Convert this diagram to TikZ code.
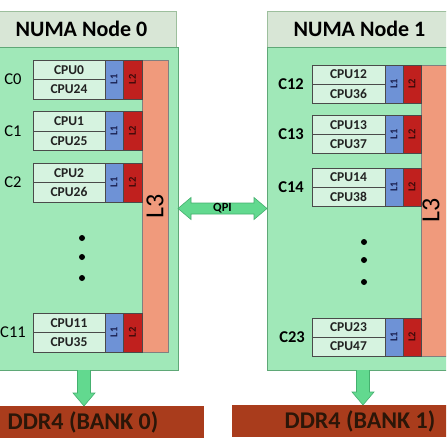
\documentclass[tikz,border=0pt]{standalone}
\usepackage{fontspec}
\usepackage{graphicx}
\setmainfont{Carlito}
\usetikzlibrary{calc}
\definecolor{hdrfill}{HTML}{D8E6D6}
\definecolor{hdrline}{HTML}{9DBF9D}
\definecolor{bodyfill}{HTML}{A0E8B8}
\definecolor{bodyline}{HTML}{5FA877}
\definecolor{cpufill}{HTML}{D6F3E0}
\definecolor{cpuline}{HTML}{4A4A4A}
\definecolor{lonefill}{HTML}{6E92D6}
\definecolor{ltwofill}{HTML}{C0201E}
\definecolor{lthreefill}{HTML}{F09A7C}
\definecolor{ddrfill}{HTML}{A93C1C}
\definecolor{ddrtext}{HTML}{2B1608}
\definecolor{arrfill}{HTML}{62D98F}
\definecolor{arrline}{HTML}{45B06F}
\definecolor{lonetext}{HTML}{1A2050}
\definecolor{ltwotext}{HTML}{3A0A0A}
\definecolor{cputext}{HTML}{222222}
\tikzset{
  box/.style={rectangle, inner sep=0pt, outer sep=0pt, anchor=north west},
  hdr/.style={box, draw=hdrline, fill=hdrfill, line width=0.8pt, font=\fontsize{22}{24}\selectfont\bfseries},
  nodebody/.style={box, draw=bodyline, fill=bodyfill, line width=0.8pt},
  cpubox/.style={box, draw=cpuline, fill=cpufill, line width=0.6pt, text=cputext, font=\fontsize{13.5}{15}\selectfont\bfseries},
  lonebox/.style={box, draw=cpuline, fill=lonefill, line width=0.6pt, text=lonetext, font=\fontsize{10.5}{11}\selectfont\bfseries},
  ltwobox/.style={box, draw=cpuline, fill=ltwofill, line width=0.6pt, text=ltwotext, font=\fontsize{10.5}{11}\selectfont\bfseries},
  lthreebox/.style={box, draw=cpuline!70, fill=lthreefill, line width=0.6pt},
  lthreelab/.style={inner sep=0pt, font=\fontsize{26}{28}\selectfont},
  corelabA/.style={inner sep=0pt, font=\fontsize{16.5}{18}\selectfont},
  corelabB/.style={inner sep=0pt, font=\fontsize{16.5}{18}\selectfont\bfseries},
  dotnode/.style={circle, fill=black, inner sep=0pt, minimum size=6pt},
  ddrbox/.style={rectangle, inner sep=0pt, outer sep=0pt, fill=ddrfill, text=ddrtext, font=\fontsize{24}{26}\selectfont\bfseries},
  fatarrow/.style={fill=arrfill, draw=arrline, line width=0.6pt, line join=miter},
  qpilab/.style={inner sep=0pt, font=\fontsize{12.5}{13}\selectfont\bfseries}
}
% #1 name, #2 x, #3 y, #4 row height, #5 cpu width, #6 l1 width, #7 l2 width, #8 top cpu, #9 bottom cpu
\newcommand\coregroup[9]{%
  \node[cpubox, minimum width=#5pt, minimum height=#4pt] (#1a) at (#2,#3) {#8};
  \node[cpubox, minimum width=#5pt, minimum height=#4pt] (#1b) at (#1a.south west) {#9};
  \node[lonebox, minimum width=#6pt, minimum height=2*#4pt] (#1l1) at (#1a.north east) {\rotatebox{90}{L1}};
  \node[ltwobox, minimum width=#7pt, minimum height=2*#4pt] (#1l2) at (#1l1.north east) {\rotatebox{90}{L2}};
}
\begin{document}
\begin{tikzpicture}[x=1pt, y=-1pt]
\path[use as bounding box, clip] (0,0) rectangle (446,446);
\fill[white] (0,0) rectangle (446,446);

% ---------- NUMA Node 0 ----------
\node[hdr, minimum width=186pt, minimum height=36pt] (hdr0) at (-10,11) {\hspace*{-3pt}NUMA Node 0};
\node[nodebody, minimum width=188pt, minimum height=323pt] (body0) at (-10,47) {};
\node[lthreebox, minimum width=26pt, minimum height=292pt] (lthree0) at (142,60) {\rotatebox{90}{\fontsize{26}{28}\selectfont L3}};
\coregroup{ga}{33}{60}{19.5}{72}{18}{19}{CPU0}{CPU24}
\coregroup{gb}{33}{111.5}{19.5}{72}{18}{19}{CPU1}{CPU25}
\coregroup{gc}{33}{163}{19.5}{72}{18}{19}{CPU2}{CPU26}
\coregroup{gd}{33}{313}{19.5}{72}{18}{19}{CPU11}{CPU35}
\node[corelabA] (laba) at (13,79.5) {C0};
\node[corelabA] (labb) at (13,131) {C1};
\node[corelabA] (labc) at (13,182.5) {C2};
\node[corelabA] (labd) at (13,332.5) {C11};
\node[dotnode] (dota1) at (82,238) {};
\node[dotnode] (dota2) at (82,257) {};
\node[dotnode] (dota3) at (82,278) {};

% ---------- NUMA Node 1 ----------
\node[hdr, minimum width=193pt, minimum height=36pt] (hdr1) at (267,11) {\hspace*{-8pt}NUMA Node 1};
\node[nodebody, minimum width=192pt, minimum height=323pt] (body1) at (267,47) {};
\node[lthreebox, minimum width=45pt, minimum height=291pt] (lthree1) at (421,65) {};
\node[lthreelab] (lthreelab1) at ([xshift=-12.5pt]lthree1.center) {\rotatebox{90}{L3}};
\coregroup{ge}{312}{65}{19}{73}{18}{18}{CPU12}{CPU36}
\coregroup{gf}{312}{115.5}{19}{73}{18}{18}{CPU13}{CPU37}
\coregroup{gg}{312}{168}{19}{73}{18}{18}{CPU14}{CPU38}
\coregroup{gh}{312}{318}{19}{73}{18}{18}{CPU23}{CPU47}
\node[corelabB] (labe) at (291,84) {C12};
\node[corelabB] (labf) at (291,134.5) {C13};
\node[corelabB] (labg) at (291,187) {C14};
\node[corelabB] (labh) at (292,337) {C23};
\node[dotnode] (dotb1) at (364,242) {};
\node[dotnode] (dotb2) at (364,260) {};
\node[dotnode] (dotb3) at (364,282) {};

% ---------- DDR4 banks ----------
\node[ddrbox, minimum width=242pt, minimum height=32pt, anchor=north] (ddr0) at (83,406) {DDR4 (BANK 0)};
\node[ddrbox, minimum width=256pt, minimum height=32pt, anchor=north] (ddr1) at (360,405) {DDR4 (BANK 1)};

% ---------- arrows ----------
\draw[fatarrow] let \p1=(body0.south), \p2=(ddr0.north) in
  (\x1-6.5pt,\y1) -- (\x1-6.5pt,\y2+13pt) -- (\x1-11pt,\y2+13pt) -- (\x1,\y2)
  -- (\x1+11pt,\y2+13pt) -- (\x1+6.5pt,\y2+13pt) -- (\x1+6.5pt,\y1);
\draw[fatarrow] let \p1=(body1.south), \p2=(ddr1.north) in
  (\x1-6.5pt,\y1) -- (\x1-6.5pt,\y2+13pt) -- (\x1-11pt,\y2+13pt) -- (\x1,\y2)
  -- (\x1+11pt,\y2+13pt) -- (\x1+6.5pt,\y2+13pt) -- (\x1+6.5pt,\y1);
\draw[fatarrow] let \p1=(body0.east), \p2=(body1.west) in
  (\x1,\y1) -- (\x1+13pt,\y1+11pt) -- (\x1+13pt,\y1+5.5pt) -- (\x2-13pt,\y1+5.5pt)
  -- (\x2-13pt,\y1+11pt) -- (\x2,\y1) -- (\x2-13pt,\y1-11pt) -- (\x2-13pt,\y1-5.5pt)
  -- (\x1+13pt,\y1-5.5pt) -- (\x1+13pt,\y1-11pt) -- cycle;
\node[qpilab] (qpi) at ($(body0.east)!0.5!(body1.west)$) {QPI};
\end{tikzpicture}
\end{document}
